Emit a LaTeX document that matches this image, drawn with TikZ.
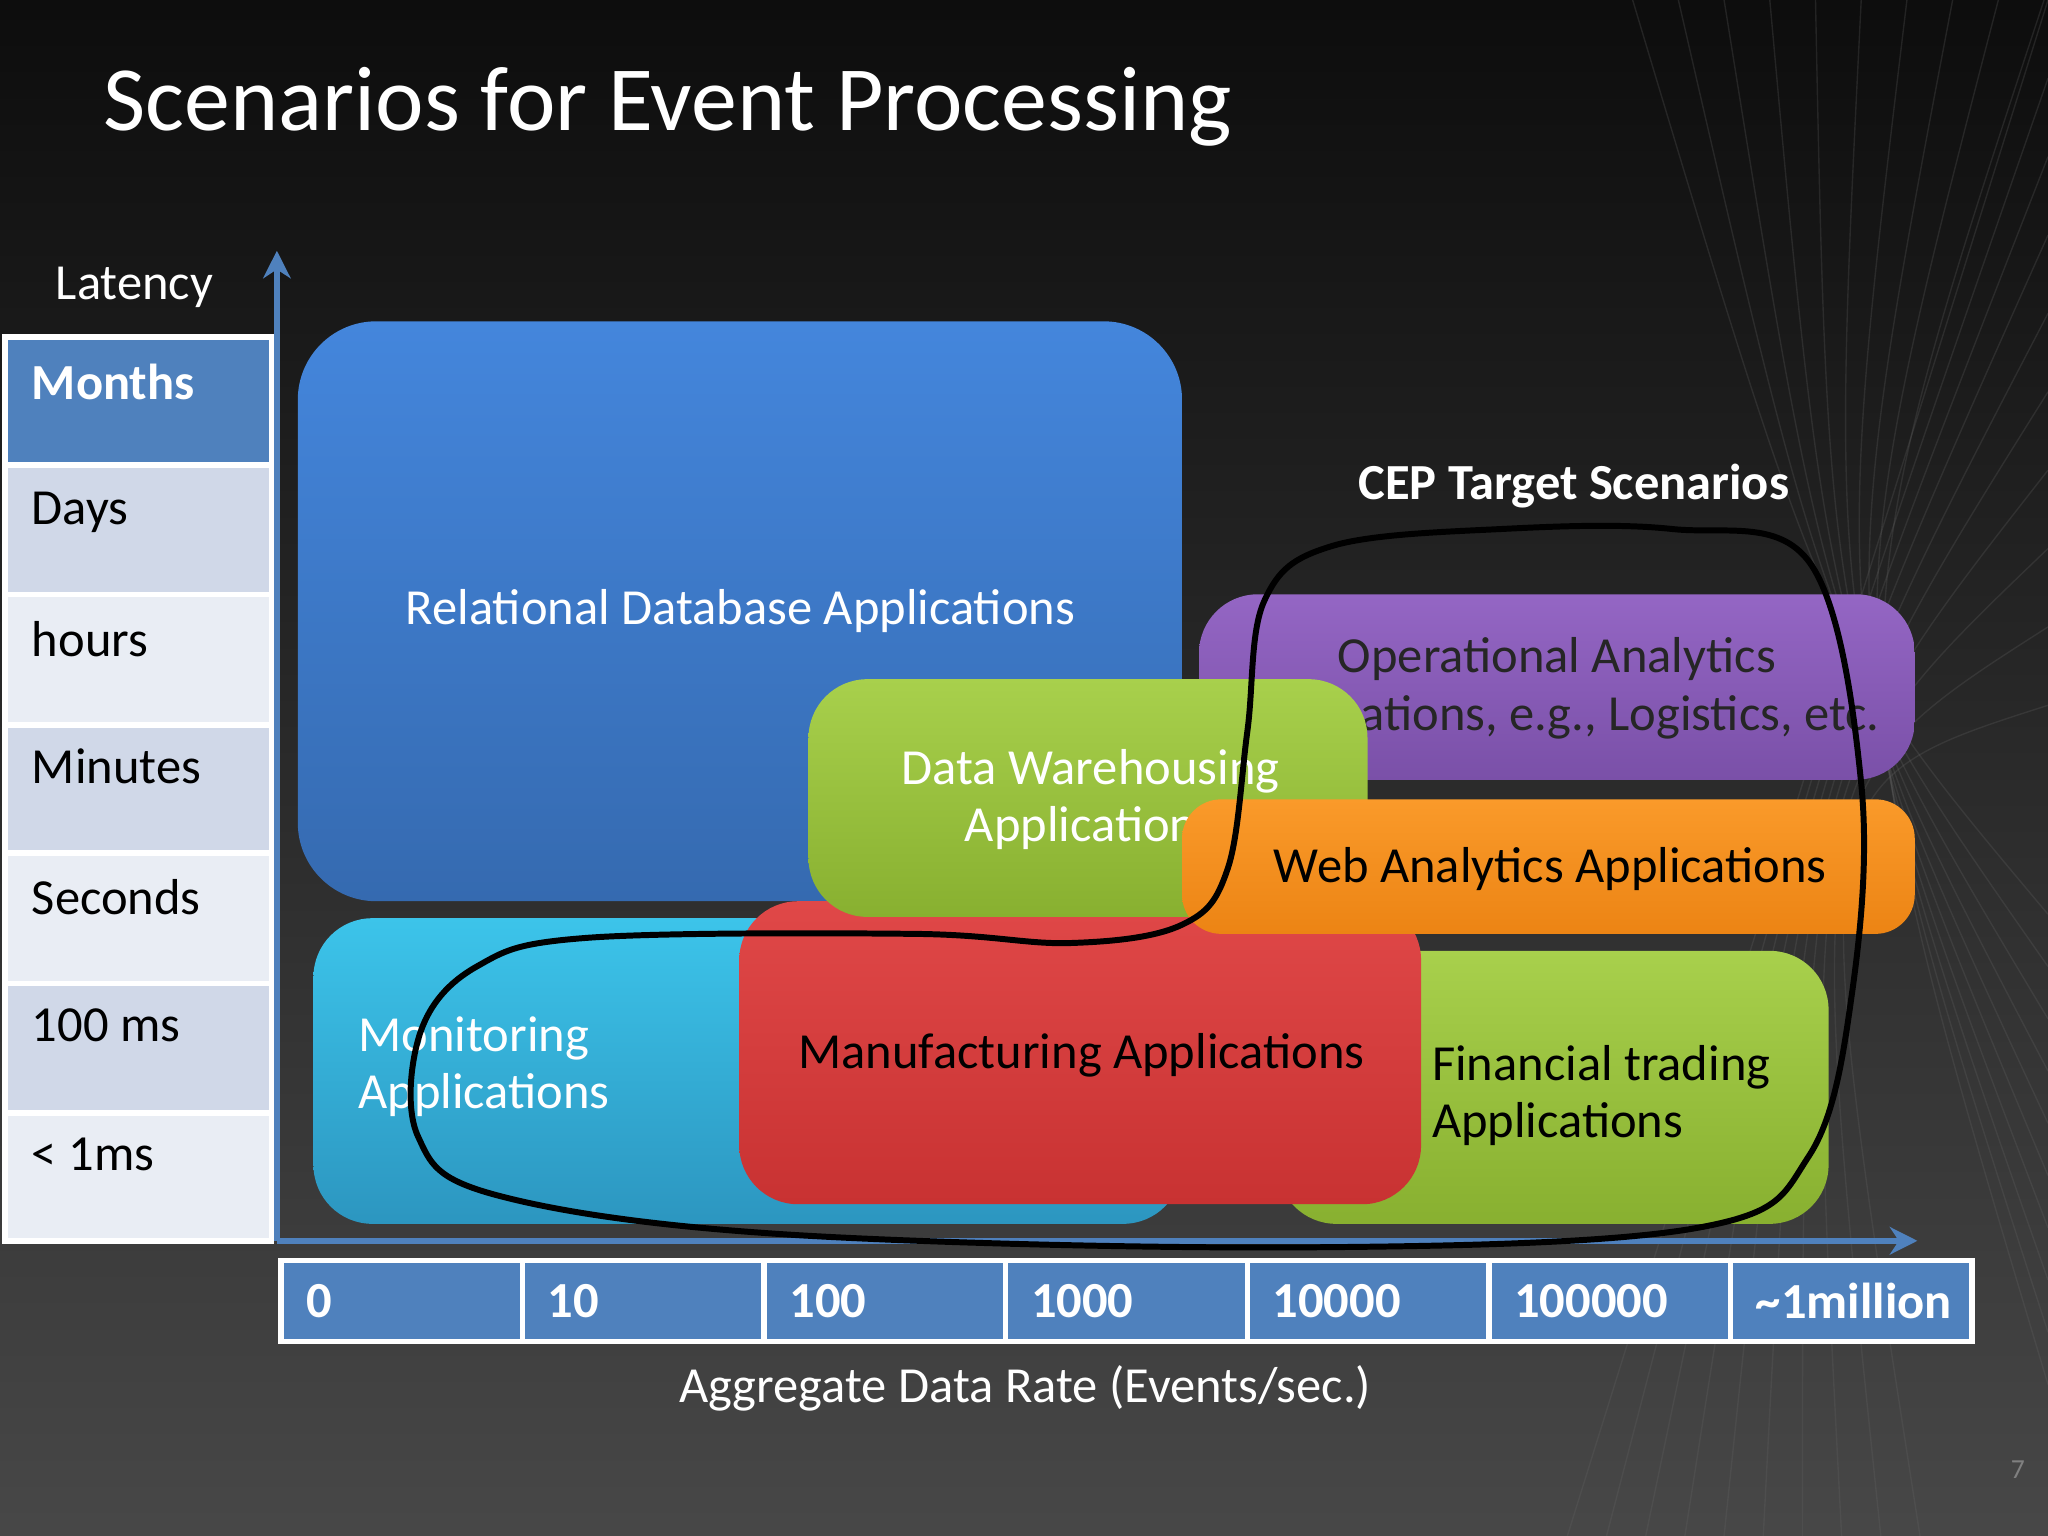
\documentclass[tikz,border=0pt]{standalone}
\usepackage{fontspec}
\setmainfont{Carlito}
\usetikzlibrary{arrows.meta}
\definecolor{axblue}{HTML}{4F81BD}
\definecolor{rowa}{HTML}{D0D8E8}
\definecolor{rowb}{HTML}{E9EDF4}
\definecolor{relA}{HTML}{4486DC}\definecolor{relB}{HTML}{356AB0}
\definecolor{monA}{HTML}{3CC4EA}\definecolor{monB}{HTML}{2C96C0}
\definecolor{grA}{HTML}{A8D04C}\definecolor{grB}{HTML}{88B030}
\definecolor{redA}{HTML}{E04848}\definecolor{redB}{HTML}{C83232}
\definecolor{puA}{HTML}{9466C4}\definecolor{puB}{HTML}{7A50A8}
\definecolor{orA}{HTML}{FA9A2A}\definecolor{orB}{HTML}{EC8414}
\begin{document}
\begin{tikzpicture}[x=0.01cm,y=-0.01cm,
  box/.style={rounded corners=0.45cm,line width=0.6pt},
  lbl/.style={font=\fontsize{11pt}{13pt}\selectfont},
  rowtxt/.style={anchor=north west,font=\fontsize{11pt}{13pt}\selectfont},
  ax/.style={draw=axblue,line width=1.3pt,-{Stealth[length=6pt,width=6pt]}}]
\useasboundingbox (0,0) rectangle (1568,1176);
\shade[top color=black!95!white, bottom color=black!72!white] (0,0) rectangle (1568,1176);
\foreach \i in {0,...,9}{
  \draw[white!40!black,opacity=0.25,line width=0.3pt] (1250+\i*35,0) .. controls (1400,500) .. (1568,700+\i*40);
  \draw[white!40!black,opacity=0.25,line width=0.3pt] (1568,\i*60) .. controls (1380,600) .. (1200+\i*30,1176);
}
\node[anchor=base west,white,font=\fontsize{20pt}{22pt}\selectfont] (title) at (67,100) {Scenarios for Event Processing};
\node[white,lbl] (lat) at (103,220) {Latency};
% left table
\fill[axblue,draw=white,line width=1.2pt] (4,258) rectangle (208,356);
\fill[rowa,draw=white,line width=1.2pt] (4,356) rectangle (208,455);
\fill[rowb,draw=white,line width=1.2pt] (4,455) rectangle (208,555);
\fill[rowa,draw=white,line width=1.2pt] (4,555) rectangle (208,653);
\fill[rowb,draw=white,line width=1.2pt] (4,653) rectangle (208,753);
\fill[rowa,draw=white,line width=1.2pt] (4,753) rectangle (208,852);
\fill[rowb,draw=white,line width=1.2pt] (4,852) rectangle (208,950);
\node[rowtxt,white,font=\fontsize{11pt}{13pt}\selectfont\bfseries] (rm) at (12,266) {Months};
\node[rowtxt] (rd) at (12,364) {Days};
\node[rowtxt] (rh) at (12,463) {hours};
\node[rowtxt] (rmi) at (12,561) {Minutes};
\node[rowtxt] (rs) at (12,661) {Seconds};
\node[rowtxt] (rc) at (12,760) {100 ms};
\node[rowtxt] (rl) at (12,859) {< 1ms};
% axes
\coordinate (yo) at (212,950); \coordinate (yt) at (212,192);
\coordinate (xo) at (212,950); \coordinate (xt) at (1468,950);
% boxes
\shade[box,top color=relA,bottom color=relB,rounded corners=0.6cm] (228,246) rectangle (905,690);
\node[white,lbl] (rel) at (567,468) {Relational Database Applications};
\shade[box,top color=monA,bottom color=monB] (240,703) rectangle (905,937);
\node[white,lbl,anchor=north west,align=left] (mon) at (262,766) {Monitoring\\[-0.5pt]Applications};
\shade[box,top color=grA,bottom color=grB] (978,728) rectangle (1400,937);
\node[black,lbl,anchor=north west,align=left] (fin) at (1084,788) {Financial trading\\[-0.5pt]Applications};
\shade[box,top color=redA,bottom color=redB] (566,690) rectangle (1088,922);
\node[black,lbl] (man) at (828,808) {Manufacturing Applications};
\shade[box,top color=puA,bottom color=puB] (918,455) rectangle (1466,597);
\node[black!85,lbl,align=center] (op) at (1192,527) {Operational Analytics\\[-0.5pt]Applications, e.g., Logistics, etc.};
\shade[box,top color=grA,bottom color=grB] (619,520) rectangle (1047,702);
\node[white,lbl,align=center] (dw) at (835,612) {Data Warehousing\\[-0.5pt]Applications};
\shade[box,top color=orA,bottom color=orB,rounded corners=0.3cm] (905,612) rectangle (1466,715);
\node[black,lbl] (web) at (1187,665) {Web Analytics Applications};
\draw[ax] (yo) -- (yt);
\draw[ax] (xo) -- (xt);
% bottom table
\foreach \v [count=\i from 0] in {0,10,100,1000,10000,100000,\textasciitilde 1million}{
  \fill[axblue,draw=white,line width=1.2pt] (215+\i*185,965) rectangle (215+\i*185+185,1027);
  \node[anchor=west,white,font=\fontsize{11pt}{12pt}\selectfont\bfseries] (x\i) at (222+\i*185,996) {\v};
}
\node[white,lbl] (xlab) at (785,1063) {Aggregate Data Rate (Events/sec.)};
% CEP loop
\draw[black,line width=1.3pt] plot[smooth cycle,tension=0.6] coordinates {(1280,405) (1385,430) (1425,600) (1418,760) (1385,885) (1300,940) (1000,955) (600,945) (380,915) (320,870) (322,790) (365,740) (450,718) (700,715) (820,722) (905,708) (940,665) (955,560) (968,460) (1020,418) (1150,405)};
\node[white,font=\fontsize{11pt}{12pt}\selectfont\bfseries] (cep) at (1205,372) {CEP Target Scenarios};
\node[gray,font=\fontsize{6pt}{7pt}\selectfont] (pg) at (1545,1125) {7};
\end{tikzpicture}
\end{document}
